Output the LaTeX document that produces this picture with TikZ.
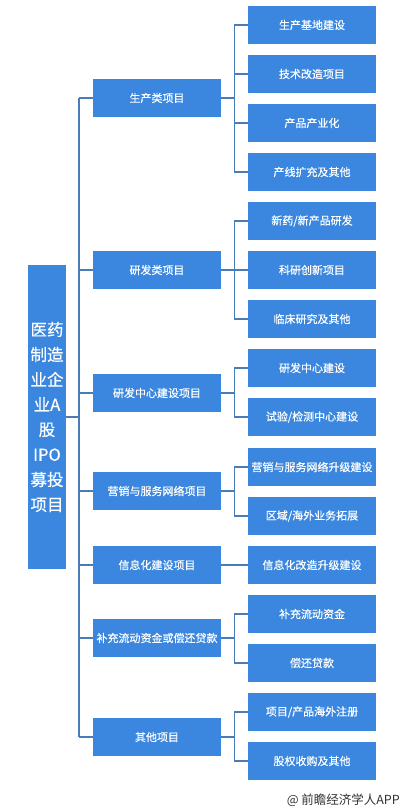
\documentclass[tikz,border=0pt]{standalone}
\usepackage{fontspec}
\newfontfamily\cjk[FakeBold=0.35]{Noto Sans CJK SC}
\newfontfamily\cjkmark{Noto Sans CJK SC}
\definecolor{boxblue}{HTML}{3B87DF}
\definecolor{linkblue}{HTML}{4A7DB8}
\definecolor{marktext}{HTML}{333333}
\begin{document}
\begin{tikzpicture}[x=1pt,y=-1pt,
  box/.style={fill=boxblue,draw=none,text=white,font=\cjk\fontsize{11}{13}\selectfont,inner sep=0pt,align=center},
  lvlone/.style={box,minimum width=128pt,minimum height=38pt},
  lvltwo/.style={box,minimum width=128pt,minimum height=38pt},
  link/.style={draw=linkblue,line width=1.1pt}]
\useasboundingbox (0,0) rectangle (405,812);
\fill[white] (0,0) rectangle (405,812);
% root
\node[box,minimum width=38pt,minimum height=304pt,font=\cjk\fontsize{16.5}{25}\selectfont] (root) at (47,417) {医药\\制造\\业企\\业A\\股\\IPO\\募投\\项目};
% level one
\node[lvlone] (a1) at (157,98) {生产类项目};
\node[lvlone] (a2) at (157,270) {研发类项目};
\node[lvlone] (a3) at (157,393) {研发中心建设项目};
\node[lvlone] (a4) at (157,491) {营销与服务网络项目};
\node[lvlone] (a5) at (157,565) {信息化建设项目};
\node[lvlone] (a6) at (157,638) {补充流动资金或偿还贷款};
\node[lvlone] (a7) at (157,737) {其他项目};
% level two
\node[lvltwo] (b1) at (312,25) {生产基地建设};
\node[lvltwo] (b2) at (312,74) {技术改造项目};
\node[lvltwo] (b3) at (312,123) {产品产业化};
\node[lvltwo] (b4) at (312,172) {产线扩充及其他};
\node[lvltwo] (b5) at (312,221) {新药/新产品研发};
\node[lvltwo] (b6) at (312,270) {科研创新项目};
\node[lvltwo] (b7) at (312,319) {临床研究及其他};
\node[lvltwo] (b8) at (312,368) {研发中心建设};
\node[lvltwo] (b9) at (312,417) {试验/检测中心建设};
\node[lvltwo] (b10) at (312,467) {营销与服务网络升级建设};
\node[lvltwo] (b11) at (312,516) {区域/海外业务拓展};
\node[lvltwo] (b12) at (312,565) {信息化改造升级建设};
\node[lvltwo] (b13) at (312,614) {补充流动资金};
\node[lvltwo] (b14) at (312,663) {偿还贷款};
\node[lvltwo] (b15) at (312,712) {项目/产品海外注册};
\node[lvltwo] (b16) at (312,761) {股权收购及其他};
% trunk
\coordinate (trunk) at (79,417);
\draw[link] (root.east) -- (trunk);
\draw[link] (79,98) -- (79,737);
\foreach \n in {a1,a2,a3,a4,a5,a6,a7}{
  \draw[link] (\n.west) -- (\n.west -| trunk);
}
% brackets
\newcommand{\bracketto}[2]{%
  \draw[link] (#1.east) -- ++(13,0);
  \draw[link] (#2.west) -| ([xshift=13pt]#1.east);
}
\bracketto{a1}{b1}\bracketto{a1}{b2}\bracketto{a1}{b3}\bracketto{a1}{b4}
\bracketto{a2}{b5}\bracketto{a2}{b6}\bracketto{a2}{b7}
\bracketto{a3}{b8}\bracketto{a3}{b9}
\bracketto{a4}{b10}\bracketto{a4}{b11}
\draw[link] (a5.east) -- (b12.west);
\bracketto{a6}{b13}\bracketto{a6}{b14}
\bracketto{a7}{b15}\bracketto{a7}{b16}
% watermark
\node[text=marktext,font=\cjkmark\fontsize{12.5}{14}\selectfont,anchor=east,inner sep=0pt] (wm) at (400,800) {@ 前瞻经济学人APP};
\end{tikzpicture}
\end{document}
